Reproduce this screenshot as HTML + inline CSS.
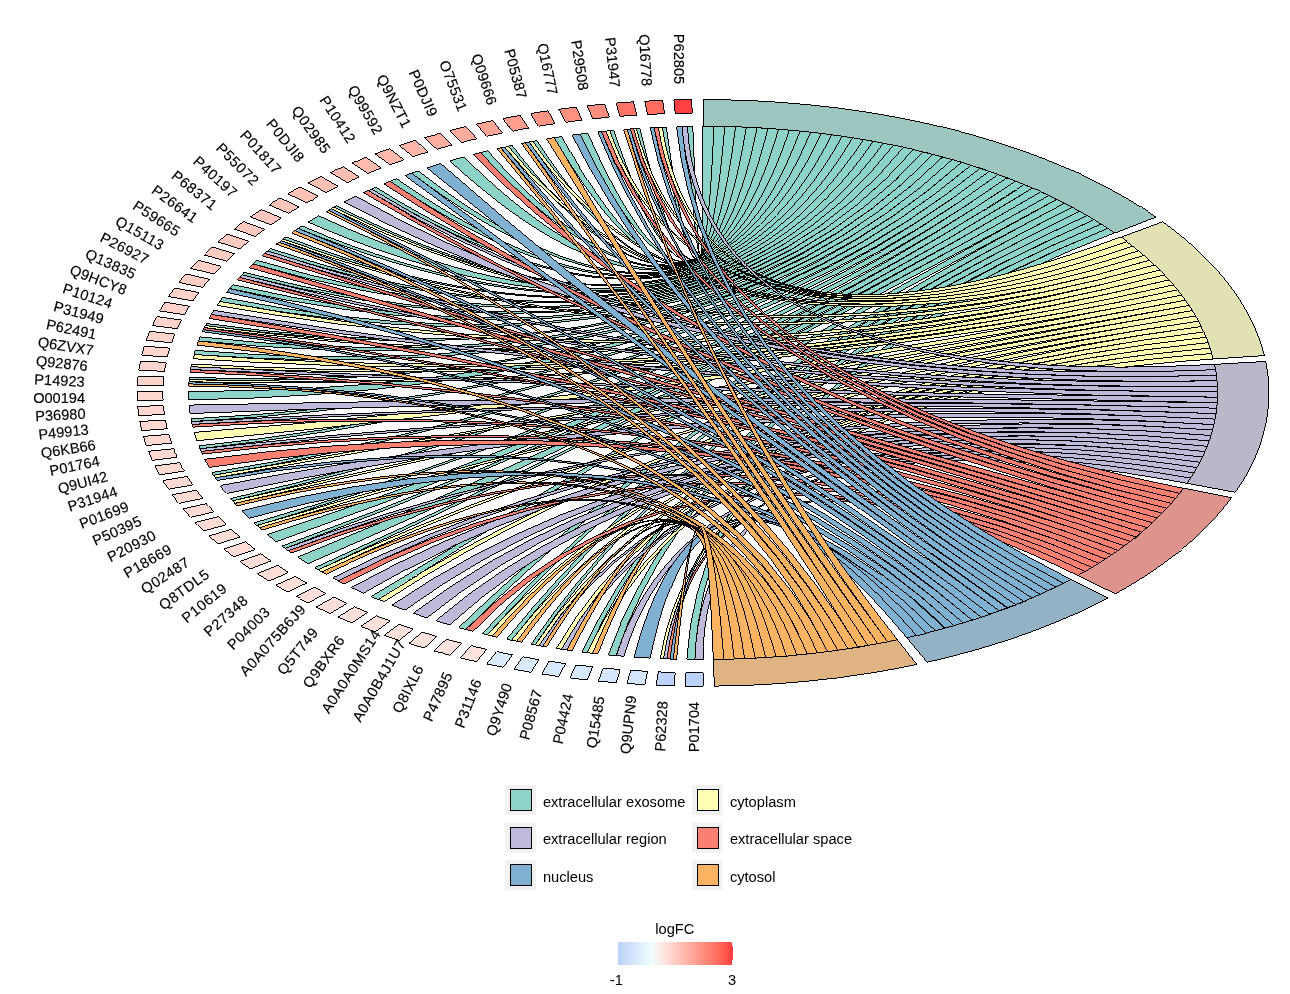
<!DOCTYPE html>
<html><head><meta charset="utf-8"><title>GOChord</title>
<style>html,body{margin:0;padding:0;background:#fff}svg{display:block}</style></head>
<body>
<svg width="1290" height="994" viewBox="0 0 1290 994">
<rect width="1290" height="994" fill="#fff"/>
<g shape-rendering="crispEdges">
<g stroke="#000" stroke-width="0.99">
<polygon fill="#9CC6BF" points="703.0,126.3 714.1,126.4 725.2,126.5 736.3,126.9 747.3,127.3 758.4,127.8 769.4,128.5 780.4,129.3 791.3,130.3 802.2,131.3 813.1,132.5 823.9,133.8 834.6,135.2 845.3,136.7 855.9,138.3 866.5,140.1 877.0,142.0 887.4,144.0 897.7,146.1 907.9,148.3 918.0,150.7 928.0,153.1 937.9,155.7 947.8,158.4 957.5,161.2 967.0,164.1 976.5,167.1 985.8,170.2 995.0,173.4 1004.1,176.7 1013.0,180.1 1021.8,183.6 1030.4,187.2 1038.9,190.9 1047.2,194.7 1055.4,198.6 1063.4,202.6 1071.2,206.7 1078.8,210.8 1086.3,215.1 1093.6,219.4 1100.8,223.8 1107.7,228.3 1114.5,232.8 1155.6,216.8 1148.2,211.8 1140.5,206.9 1132.7,202.0 1124.7,197.3 1116.4,192.6 1108.0,188.1 1099.4,183.6 1090.6,179.2 1081.6,174.9 1072.5,170.7 1063.1,166.7 1053.6,162.7 1044.0,158.8 1034.2,155.1 1024.2,151.4 1014.1,147.9 1003.8,144.5 993.4,141.2 982.9,138.0 972.2,134.9 961.4,132.0 950.5,129.2 939.5,126.5 928.4,123.9 917.1,121.4 905.8,119.1 894.4,116.9 882.8,114.8 871.2,112.9 859.5,111.1 847.8,109.4 836.0,107.8 824.1,106.4 812.1,105.1 800.1,104.0 788.1,103.0 776.0,102.1 763.9,101.3 751.8,100.7 739.6,100.3 727.4,99.9 715.2,99.7 703.1,99.6"/>
<polygon fill="#E1E1B3" points="1120.5,237.1 1126.7,241.6 1132.6,246.2 1138.4,250.8 1144.0,255.5 1149.3,260.3 1154.5,265.1 1159.5,270.0 1164.4,274.9 1169.0,279.9 1173.4,284.9 1177.6,289.9 1181.6,295.1 1185.4,300.2 1189.0,305.4 1192.4,310.6 1195.6,315.9 1198.5,321.2 1201.3,326.5 1203.8,331.9 1206.2,337.2 1208.3,342.6 1210.2,348.1 1211.9,353.5 1213.3,359.0 1264.3,355.6 1262.7,349.6 1260.9,343.6 1258.8,337.6 1256.5,331.7 1253.9,325.8 1251.1,319.9 1248.1,314.0 1244.8,308.2 1241.3,302.4 1237.6,296.6 1233.6,290.9 1229.5,285.3 1225.0,279.6 1220.4,274.1 1215.6,268.6 1210.5,263.1 1205.2,257.7 1199.7,252.3 1194.0,247.0 1188.1,241.8 1181.9,236.6 1175.6,231.5 1169.0,226.5 1162.3,221.5"/>
<polygon fill="#BAB7CA" points="1214.5,364.3 1215.5,369.5 1216.3,374.7 1216.9,380.0 1217.3,385.2 1217.5,390.5 1217.5,395.7 1217.3,401.0 1216.9,406.3 1216.2,411.5 1215.4,416.7 1214.4,422.0 1213.2,427.2 1211.8,432.4 1210.2,437.6 1208.4,442.8 1206.4,447.9 1204.2,453.0 1201.9,458.1 1199.3,463.2 1196.5,468.3 1193.5,473.3 1190.4,478.3 1187.0,483.3 1235.4,492.3 1239.1,486.8 1242.6,481.3 1245.9,475.8 1248.9,470.3 1251.7,464.7 1254.4,459.1 1256.8,453.4 1259.0,447.7 1260.9,442.0 1262.7,436.3 1264.2,430.6 1265.6,424.9 1266.7,419.1 1267.6,413.4 1268.2,407.6 1268.7,401.8 1268.9,396.0 1268.9,390.3 1268.7,384.5 1268.3,378.7 1267.6,372.9 1266.8,367.2 1265.7,361.4"/>
<polygon fill="#DE948C" points="1183.5,488.3 1179.8,493.1 1175.9,497.9 1171.9,502.6 1167.7,507.3 1163.3,512.0 1158.8,516.6 1154.1,521.2 1149.2,525.7 1144.1,530.1 1138.9,534.6 1133.5,538.9 1127.9,543.2 1122.2,547.5 1116.3,551.7 1110.3,555.8 1104.1,559.9 1097.7,563.9 1091.3,567.8 1084.6,571.7 1077.8,575.5 1115.3,593.8 1122.8,589.6 1130.1,585.3 1137.2,581.0 1144.2,576.6 1151.0,572.1 1157.6,567.6 1164.1,562.9 1170.4,558.3 1176.5,553.5 1182.4,548.7 1188.2,543.9 1193.8,539.0 1199.2,534.0 1204.4,529.0 1209.4,523.9 1214.2,518.8 1218.8,513.6 1223.2,508.4 1227.5,503.1 1231.5,497.8"/>
<polygon fill="#94B2C6" points="1070.7,579.4 1063.6,583.0 1056.4,586.6 1049.1,590.2 1041.6,593.6 1034.1,597.0 1026.3,600.3 1018.5,603.5 1010.5,606.6 1002.5,609.7 994.3,612.7 986.0,615.6 977.6,618.4 969.1,621.1 960.4,623.7 951.7,626.3 942.9,628.7 934.0,631.1 925.1,633.4 916.0,635.6 906.8,637.7 927.2,662.2 937.3,659.9 947.3,657.4 957.1,654.9 966.9,652.3 976.6,649.6 986.2,646.8 995.7,643.9 1005.0,640.9 1014.3,637.8 1023.4,634.6 1032.4,631.4 1041.3,628.0 1050.0,624.6 1058.7,621.0 1067.2,617.4 1075.5,613.7 1083.7,609.9 1091.8,606.0 1099.7,602.1 1107.5,598.0"/>
<polygon fill="#DFB482" points="897.4,639.8 888.1,641.7 878.8,643.5 869.4,645.2 860.0,646.8 850.5,648.3 840.9,649.7 831.3,651.1 821.7,652.3 812.0,653.5 802.2,654.5 792.4,655.4 782.6,656.3 772.8,657.0 762.9,657.7 753.0,658.2 743.1,658.7 733.2,659.0 723.3,659.3 713.3,659.4 714.4,686.1 725.3,685.9 736.2,685.7 747.1,685.3 758.0,684.8 768.9,684.2 779.8,683.5 790.6,682.6 801.4,681.7 812.1,680.7 822.9,679.5 833.5,678.3 844.1,676.9 854.7,675.4 865.2,673.9 875.7,672.2 886.1,670.4 896.4,668.5 906.6,666.5 916.8,664.4"/>
</g>
<g font-family="Liberation Sans, Arial, sans-serif" font-size="14.6" fill="#000" stroke="#000" stroke-width="0.15" text-anchor="middle">
<text transform="translate(680.1 59.9) rotate(-270.0)" x="-0.9" y="6.5" letter-spacing="0.00">P62805</text>
<text transform="translate(647.0 60.9) rotate(-273.0)" x="-0.9" y="6.5" letter-spacing="0.01">Q16778</text>
<text transform="translate(614.1 62.9) rotate(-276.0)" x="-0.8" y="6.5" letter-spacing="0.02">P31947</text>
<text transform="translate(581.4 65.7) rotate(-279.0)" x="-0.7" y="6.5" letter-spacing="0.05">P29508</text>
<text transform="translate(549.1 69.3) rotate(-282.0)" x="-0.6" y="6.5" letter-spacing="0.09">Q16777</text>
<text transform="translate(517.2 73.9) rotate(-285.0)" x="-0.5" y="6.5" letter-spacing="0.14">P05387</text>
<text transform="translate(485.7 79.3) rotate(-288.0)" x="-0.3" y="6.5" letter-spacing="0.19">Q09666</text>
<text transform="translate(454.8 85.5) rotate(-291.0)" x="-0.1" y="6.5" letter-spacing="0.25">O75531</text>
<text transform="translate(424.6 92.5) rotate(-294.0)" x="0.1" y="6.5" letter-spacing="0.30">P0DJI9</text>
<text transform="translate(395.2 100.3) rotate(-297.0)" x="0.3" y="6.5" letter-spacing="0.36">Q9NZT1</text>
<text transform="translate(366.5 108.9) rotate(-300.0)" x="0.4" y="6.5" letter-spacing="0.41">Q99592</text>
<text transform="translate(338.7 118.3) rotate(-303.0)" x="0.6" y="6.5" letter-spacing="0.46">P10412</text>
<text transform="translate(312.0 128.4) rotate(-306.0)" x="0.7" y="6.5" letter-spacing="0.50">Q02985</text>
<text transform="translate(286.2 139.2) rotate(-309.0)" x="0.8" y="6.5" letter-spacing="0.53">P0DJI8</text>
<text transform="translate(261.5 150.6) rotate(-312.0)" x="0.8" y="6.5" letter-spacing="0.54">P01817</text>
<text transform="translate(238.1 162.7) rotate(-315.0)" x="0.9" y="6.5" letter-spacing="0.55">P55072</text>
<text transform="translate(215.8 175.4) rotate(-318.0)" x="0.8" y="6.5" letter-spacing="0.54">P40197</text>
<text transform="translate(194.8 188.7) rotate(-321.0)" x="0.8" y="6.5" letter-spacing="0.53">P68371</text>
<text transform="translate(175.2 202.5) rotate(-324.0)" x="0.7" y="6.5" letter-spacing="0.50">P26641</text>
<text transform="translate(157.0 216.9) rotate(-327.0)" x="0.6" y="6.5" letter-spacing="0.46">P59665</text>
<text transform="translate(140.3 231.7) rotate(-330.0)" x="0.4" y="6.5" letter-spacing="0.41">Q15113</text>
<text transform="translate(125.0 246.9) rotate(-333.0)" x="0.3" y="6.5" letter-spacing="0.36">P26927</text>
<text transform="translate(111.3 262.5) rotate(-336.0)" x="0.1" y="6.5" letter-spacing="0.30">Q13835</text>
<text transform="translate(99.1 278.5) rotate(-339.0)" x="-0.1" y="6.5" letter-spacing="0.25">Q9HCY8</text>
<text transform="translate(88.5 294.7) rotate(-342.0)" x="-0.3" y="6.5" letter-spacing="0.19">P10124</text>
<text transform="translate(79.6 311.3) rotate(-345.0)" x="-0.5" y="6.5" letter-spacing="0.14">P31949</text>
<text transform="translate(72.3 328.0) rotate(-348.0)" x="-0.6" y="6.5" letter-spacing="0.09">P62491</text>
<text transform="translate(66.7 344.9) rotate(-351.0)" x="-0.7" y="6.5" letter-spacing="0.05">Q6ZVX7</text>
<text transform="translate(62.8 362.0) rotate(-354.0)" x="-0.8" y="6.5" letter-spacing="0.02">Q92876</text>
<text transform="translate(60.5 379.1) rotate(-357.0)" x="-0.9" y="6.5" letter-spacing="0.01">P14923</text>
<text transform="translate(60.0 396.2) rotate(-360.0)" x="-0.9" y="6.5" letter-spacing="0.00">O00194</text>
<text transform="translate(61.2 413.4) rotate(-3.0)" x="-0.9" y="6.5" letter-spacing="0.01">P36980</text>
<text transform="translate(64.1 430.5) rotate(-6.0)" x="-0.8" y="6.5" letter-spacing="0.02">P49913</text>
<text transform="translate(68.7 447.5) rotate(-9.0)" x="-0.7" y="6.5" letter-spacing="0.05">Q6KB66</text>
<text transform="translate(74.9 464.3) rotate(-12.0)" x="-0.6" y="6.5" letter-spacing="0.09">P01764</text>
<text transform="translate(82.9 481.0) rotate(-15.0)" x="-0.5" y="6.5" letter-spacing="0.14">Q9UI42</text>
<text transform="translate(92.4 497.4) rotate(-18.0)" x="-0.3" y="6.5" letter-spacing="0.19">P31944</text>
<text transform="translate(103.6 513.6) rotate(-21.0)" x="-0.1" y="6.5" letter-spacing="0.25">P01699</text>
<text transform="translate(116.4 529.4) rotate(-24.0)" x="0.1" y="6.5" letter-spacing="0.30">P50395</text>
<text transform="translate(130.7 544.9) rotate(-27.0)" x="0.3" y="6.5" letter-spacing="0.36">P20930</text>
<text transform="translate(146.6 559.9) rotate(-30.0)" x="0.4" y="6.5" letter-spacing="0.41">P18669</text>
<text transform="translate(163.9 574.6) rotate(-33.0)" x="0.6" y="6.5" letter-spacing="0.46">Q02487</text>
<text transform="translate(182.7 588.7) rotate(-36.0)" x="0.7" y="6.5" letter-spacing="0.50">Q8TDL5</text>
<text transform="translate(202.8 602.3) rotate(-39.0)" x="0.8" y="6.5" letter-spacing="0.53">P10619</text>
<text transform="translate(224.3 615.4) rotate(-42.0)" x="0.8" y="6.5" letter-spacing="0.54">P27348</text>
<text transform="translate(247.0 627.9) rotate(-45.0)" x="0.9" y="6.5" letter-spacing="0.55">P04003</text>
<text transform="translate(271.0 639.7) rotate(-48.0)" x="0.8" y="6.5" letter-spacing="0.54">A0A075B6J9</text>
<text transform="translate(296.1 650.9) rotate(-51.0)" x="0.8" y="6.5" letter-spacing="0.53">Q5T749</text>
<text transform="translate(322.2 661.4) rotate(-54.0)" x="0.7" y="6.5" letter-spacing="0.50">Q9BXR6</text>
<text transform="translate(349.4 671.2) rotate(-57.0)" x="0.6" y="6.5" letter-spacing="0.46">A0A0A0MS14</text>
<text transform="translate(377.5 680.3) rotate(-60.0)" x="0.4" y="6.5" letter-spacing="0.41">A0A0B4J1U7</text>
<text transform="translate(406.5 688.6) rotate(-63.0)" x="0.3" y="6.5" letter-spacing="0.36">Q8IXL6</text>
<text transform="translate(436.3 696.1) rotate(-66.0)" x="0.1" y="6.5" letter-spacing="0.30">P47895</text>
<text transform="translate(466.8 702.8) rotate(-69.0)" x="-0.1" y="6.5" letter-spacing="0.25">P31146</text>
<text transform="translate(497.9 708.7) rotate(-72.0)" x="-0.3" y="6.5" letter-spacing="0.19">Q9Y490</text>
<text transform="translate(529.5 713.8) rotate(-75.0)" x="-0.5" y="6.5" letter-spacing="0.14">P08567</text>
<text transform="translate(561.6 718.0) rotate(-78.0)" x="-0.6" y="6.5" letter-spacing="0.09">P04424</text>
<text transform="translate(594.1 721.3) rotate(-81.0)" x="-0.7" y="6.5" letter-spacing="0.05">Q15485</text>
<text transform="translate(626.9 723.8) rotate(-84.0)" x="-0.8" y="6.5" letter-spacing="0.02">Q9UPN9</text>
<text transform="translate(659.8 725.4) rotate(-87.0)" x="-0.9" y="6.5" letter-spacing="0.01">P62328</text>
<text transform="translate(692.9 726.1) rotate(-90.0)" x="-0.9" y="6.5" letter-spacing="0.00">P01704</text>
</g>
<g stroke="#000" stroke-width="0.99">
<g fill="#8DD3C7">
<path d="M703.0,126.3 Q703.0,392.9 692.8,126.4 L687.4,126.4 Q703.0,392.9 713.9,126.4 Z"/>
<path d="M713.9,126.4 Q703.0,392.9 666.3,127.0 L662.3,127.1 Q703.0,392.9 724.7,126.5 Z"/>
<path d="M724.7,126.5 Q703.0,392.9 639.9,128.3 L636.7,128.5 Q703.0,392.9 735.5,126.8 Z"/>
<path d="M735.5,126.8 Q703.0,392.9 613.7,130.3 L609.7,130.7 Q703.0,392.9 746.3,127.2 Z"/>
<path d="M746.3,127.2 Q703.0,392.9 587.8,133.1 L579.9,134.1 Q703.0,392.9 757.1,127.8 Z"/>
<path d="M757.1,127.8 Q703.0,392.9 562.1,136.5 L554.3,137.7 Q703.0,392.9 767.9,128.4 Z"/>
<path d="M767.9,128.4 Q703.0,392.9 536.8,140.6 L533.0,141.3 Q703.0,392.9 778.6,129.2 Z"/>
<path d="M778.6,129.2 Q703.0,392.9 512.0,145.4 L508.2,146.2 Q703.0,392.9 789.3,130.1 Z"/>
<path d="M789.3,130.1 Q703.0,392.9 487.7,150.8 L480.3,152.6 Q703.0,392.9 800.0,131.1 Z"/>
<path d="M800.0,131.1 Q703.0,392.9 463.9,156.9 L449.7,160.9 Q703.0,392.9 810.6,132.2 Z"/>
<path d="M810.6,132.2 Q703.0,392.9 418.3,170.9 L411.6,173.2 Q703.0,392.9 821.2,133.4 Z"/>
<path d="M821.2,133.4 Q703.0,392.9 396.6,178.7 L390.2,181.3 Q703.0,392.9 831.7,134.8 Z"/>
<path d="M831.7,134.8 Q703.0,392.9 375.8,187.2 L371.6,189.0 Q703.0,392.9 842.2,136.2 Z"/>
<path d="M842.2,136.2 Q703.0,392.9 336.7,205.7 L333.9,207.2 Q703.0,392.9 852.6,137.8 Z"/>
<path d="M852.6,137.8 Q703.0,392.9 318.6,215.8 L308.0,222.1 Q703.0,392.9 862.9,139.5 Z"/>
<path d="M862.9,139.5 Q703.0,392.9 301.5,226.2 L298.1,228.4 Q703.0,392.9 873.2,141.3 Z"/>
<path d="M873.2,141.3 Q703.0,392.9 285.5,237.2 L283.1,238.9 Q703.0,392.9 883.4,143.2 Z"/>
<path d="M883.4,143.2 Q703.0,392.9 270.6,248.5 L267.7,250.9 Q703.0,392.9 893.5,145.2 Z"/>
<path d="M893.5,145.2 Q703.0,392.9 256.8,260.3 L252.8,263.9 Q703.0,392.9 903.5,147.4 Z"/>
<path d="M903.5,147.4 Q703.0,392.9 244.2,272.3 L241.8,274.8 Q703.0,392.9 913.4,149.6 Z"/>
<path d="M913.4,149.6 Q703.0,392.9 232.8,284.7 L229.6,288.6 Q703.0,392.9 923.3,152.0 Z"/>
<path d="M923.3,152.0 Q703.0,392.9 222.7,297.4 L219.9,301.4 Q703.0,392.9 933.0,154.4 Z"/>
<path d="M933.0,154.4 Q703.0,392.9 206.3,323.5 L205.3,325.6 Q703.0,392.9 942.6,157.0 Z"/>
<path d="M942.6,157.0 Q703.0,392.9 200.1,336.9 L198.5,341.0 Q703.0,392.9 952.2,159.6 Z"/>
<path d="M952.2,159.6 Q703.0,392.9 195.2,350.4 L194.0,354.5 Q703.0,392.9 961.6,162.4 Z"/>
<path d="M961.6,162.4 Q703.0,392.9 189.4,377.6 L189.2,379.7 Q703.0,392.9 970.9,165.3 Z"/>
<path d="M970.9,165.3 Q703.0,392.9 188.6,391.4 L188.8,399.8 Q703.0,392.9 980.1,168.3 Z"/>
<path d="M980.1,168.3 Q703.0,392.9 191.0,418.8 L191.6,421.6 Q703.0,392.9 989.2,171.3 Z"/>
<path d="M989.2,171.3 Q703.0,392.9 198.9,445.9 L200.0,448.7 Q703.0,392.9 998.1,174.5 Z"/>
<path d="M998.1,174.5 Q703.0,392.9 212.1,472.5 L213.7,475.2 Q703.0,392.9 1006.9,177.8 Z"/>
<path d="M1006.9,177.8 Q703.0,392.9 230.5,498.3 L232.6,500.8 Q703.0,392.9 1015.6,181.1 Z"/>
<path d="M1015.6,181.1 Q703.0,392.9 253.9,522.9 L256.5,525.3 Q703.0,392.9 1024.1,184.6 Z"/>
<path d="M1024.1,184.6 Q703.0,392.9 267.4,534.7 L276.2,541.7 Q703.0,392.9 1032.5,188.2 Z"/>
<path d="M1032.5,188.2 Q703.0,392.9 282.1,546.1 L285.2,548.4 Q703.0,392.9 1040.8,191.8 Z"/>
<path d="M1040.8,191.8 Q703.0,392.9 297.8,557.1 L308.0,563.7 Q703.0,392.9 1048.9,195.5 Z"/>
<path d="M1048.9,195.5 Q703.0,392.9 314.7,567.7 L318.2,569.8 Q703.0,392.9 1056.8,199.3 Z"/>
<path d="M1056.8,199.3 Q703.0,392.9 371.2,596.6 L377.5,599.3 Q703.0,392.9 1064.6,203.2 Z"/>
<path d="M1064.6,203.2 Q703.0,392.9 458.7,627.5 L465.8,629.5 Q703.0,392.9 1072.2,207.2 Z"/>
<path d="M1072.2,207.2 Q703.0,392.9 482.3,633.7 L487.2,634.9 Q703.0,392.9 1079.7,211.3 Z"/>
<path d="M1079.7,211.3 Q703.0,392.9 506.5,639.3 L511.5,640.3 Q703.0,392.9 1087.0,215.5 Z"/>
<path d="M1087.0,215.5 Q703.0,392.9 531.2,644.2 L535.1,644.9 Q703.0,392.9 1094.1,219.7 Z"/>
<path d="M1094.1,219.7 Q703.0,392.9 582.0,652.0 L587.3,652.7 Q703.0,392.9 1101.1,224.0 Z"/>
<path d="M1101.1,224.0 Q703.0,392.9 607.9,654.9 L615.9,655.6 Q703.0,392.9 1107.9,228.4 Z"/>
<path d="M1107.9,228.4 Q703.0,392.9 686.8,659.4 L694.9,659.5 Q703.0,392.9 1114.5,232.8 Z"/>
</g>
<g fill="#FFFFB3">
<path d="M1120.5,237.1 Q703.0,392.9 662.3,127.1 L658.2,127.3 Q703.0,392.9 1126.7,241.6 Z"/>
<path d="M1126.7,241.6 Q703.0,392.9 636.7,128.5 L633.5,128.7 Q703.0,392.9 1132.6,246.2 Z"/>
<path d="M1132.6,246.2 Q703.0,392.9 609.7,130.7 L605.8,131.1 Q703.0,392.9 1138.4,250.8 Z"/>
<path d="M1138.4,250.8 Q703.0,392.9 533.0,141.3 L529.2,142.0 Q703.0,392.9 1144.0,255.5 Z"/>
<path d="M1144.0,255.5 Q703.0,392.9 508.2,146.2 L504.5,147.0 Q703.0,392.9 1149.3,260.3 Z"/>
<path d="M1149.3,260.3 Q703.0,392.9 333.9,207.2 L331.1,208.7 Q703.0,392.9 1154.5,265.1 Z"/>
<path d="M1154.5,265.1 Q703.0,392.9 283.1,238.9 L280.8,240.6 Q703.0,392.9 1159.5,270.0 Z"/>
<path d="M1159.5,270.0 Q703.0,392.9 219.9,301.4 L217.2,305.3 Q703.0,392.9 1164.4,274.9 Z"/>
<path d="M1164.4,274.9 Q703.0,392.9 205.3,325.6 L204.3,327.6 Q703.0,392.9 1169.0,279.9 Z"/>
<path d="M1169.0,279.9 Q703.0,392.9 194.0,354.5 L192.9,358.7 Q703.0,392.9 1173.4,284.9 Z"/>
<path d="M1173.4,284.9 Q703.0,392.9 191.6,364.0 L191.1,366.7 Q703.0,392.9 1177.6,289.9 Z"/>
<path d="M1177.6,289.9 Q703.0,392.9 189.2,379.7 L189.0,381.8 Q703.0,392.9 1181.6,295.1 Z"/>
<path d="M1181.6,295.1 Q703.0,392.9 194.3,432.4 L196.9,440.7 Q703.0,392.9 1185.4,300.2 Z"/>
<path d="M1185.4,300.2 Q703.0,392.9 213.7,475.2 L215.4,477.8 Q703.0,392.9 1189.0,305.4 Z"/>
<path d="M1189.0,305.4 Q703.0,392.9 232.6,500.8 L234.8,503.4 Q703.0,392.9 1192.4,310.6 Z"/>
<path d="M1192.4,310.6 Q703.0,392.9 256.5,525.3 L259.2,527.7 Q703.0,392.9 1195.6,315.9 Z"/>
<path d="M1195.6,315.9 Q703.0,392.9 318.2,569.8 L321.9,571.9 Q703.0,392.9 1198.5,321.2 Z"/>
<path d="M1198.5,321.2 Q703.0,392.9 377.5,599.3 L383.8,601.9 Q703.0,392.9 1201.3,326.5 Z"/>
<path d="M1201.3,326.5 Q703.0,392.9 487.2,634.9 L492.1,636.1 Q703.0,392.9 1203.8,331.9 Z"/>
<path d="M1203.8,331.9 Q703.0,392.9 511.5,640.3 L516.5,641.4 Q703.0,392.9 1206.2,337.2 Z"/>
<path d="M1206.2,337.2 Q703.0,392.9 535.1,644.9 L538.9,645.6 Q703.0,392.9 1208.3,342.6 Z"/>
<path d="M1208.3,342.6 Q703.0,392.9 556.4,648.4 L561.6,649.2 Q703.0,392.9 1210.2,348.1 Z"/>
<path d="M1210.2,348.1 Q703.0,392.9 587.3,652.7 L592.5,653.3 Q703.0,392.9 1211.9,353.5 Z"/>
<path d="M1211.9,353.5 Q703.0,392.9 660.4,658.6 L663.6,658.7 Q703.0,392.9 1213.3,359.0 Z"/>
</g>
<g fill="#BEBADA">
<path d="M1214.5,364.3 Q703.0,392.9 687.4,126.4 L682.0,126.5 Q703.0,392.9 1215.6,369.7 Z"/>
<path d="M1215.6,369.7 Q703.0,392.9 371.6,189.0 L367.5,190.8 Q703.0,392.9 1216.4,375.2 Z"/>
<path d="M1216.4,375.2 Q703.0,392.9 355.8,196.2 L344.0,202.0 Q703.0,392.9 1217.0,380.7 Z"/>
<path d="M1217.0,380.7 Q703.0,392.9 267.7,250.9 L264.8,253.3 Q703.0,392.9 1217.3,386.2 Z"/>
<path d="M1217.3,386.2 Q703.0,392.9 241.8,274.8 L239.4,277.4 Q703.0,392.9 1217.5,391.7 Z"/>
<path d="M1217.5,391.7 Q703.0,392.9 213.9,310.4 L211.4,314.4 Q703.0,392.9 1217.4,397.2 Z"/>
<path d="M1217.4,397.2 Q703.0,392.9 191.1,366.7 L190.6,369.5 Q703.0,392.9 1217.2,402.7 Z"/>
<path d="M1217.2,402.7 Q703.0,392.9 189.1,405.1 L190.1,413.5 Q703.0,392.9 1216.7,408.2 Z"/>
<path d="M1216.7,408.2 Q703.0,392.9 191.6,421.6 L192.2,424.4 Q703.0,392.9 1215.9,413.6 Z"/>
<path d="M1215.9,413.6 Q703.0,392.9 200.0,448.7 L201.1,451.4 Q703.0,392.9 1215.0,419.1 Z"/>
<path d="M1215.0,419.1 Q703.0,392.9 220.6,485.5 L226.5,493.3 Q703.0,392.9 1213.9,424.6 Z"/>
<path d="M1213.9,424.6 Q703.0,392.9 285.2,548.4 L288.4,550.7 Q703.0,392.9 1212.5,430.0 Z"/>
<path d="M1212.5,430.0 Q703.0,392.9 332.6,577.9 L338.2,580.9 Q703.0,392.9 1210.9,435.5 Z"/>
<path d="M1210.9,435.5 Q703.0,392.9 351.4,587.5 L363.4,593.2 Q703.0,392.9 1209.1,440.9 Z"/>
<path d="M1209.1,440.9 Q703.0,392.9 391.9,605.2 L405.0,610.2 Q703.0,392.9 1207.1,446.3 Z"/>
<path d="M1207.1,446.3 Q703.0,392.9 413.4,613.2 L426.9,617.9 Q703.0,392.9 1204.9,451.6 Z"/>
<path d="M1204.9,451.6 Q703.0,392.9 435.7,620.7 L449.7,624.9 Q703.0,392.9 1202.4,457.0 Z"/>
<path d="M1202.4,457.0 Q703.0,392.9 538.9,645.6 L542.7,646.2 Q703.0,392.9 1199.8,462.3 Z"/>
<path d="M1199.8,462.3 Q703.0,392.9 561.6,649.2 L566.8,650.0 Q703.0,392.9 1196.9,467.6 Z"/>
<path d="M1196.9,467.6 Q703.0,392.9 615.9,655.6 L623.9,656.3 Q703.0,392.9 1193.8,472.9 Z"/>
<path d="M1193.8,472.9 Q703.0,392.9 663.6,658.7 L666.9,658.8 Q703.0,392.9 1190.5,478.1 Z"/>
<path d="M1190.5,478.1 Q703.0,392.9 694.9,659.5 L703.0,659.5 Q703.0,392.9 1187.0,483.3 Z"/>
</g>
<g fill="#FB8072">
<path d="M1183.5,488.3 Q703.0,392.9 658.2,127.3 L654.2,127.5 Q703.0,392.9 1179.6,493.3 Z"/>
<path d="M1179.6,493.3 Q703.0,392.9 633.5,128.7 L630.3,129.0 Q703.0,392.9 1175.5,498.4 Z"/>
<path d="M1175.5,498.4 Q703.0,392.9 605.8,131.1 L601.8,131.5 Q703.0,392.9 1171.3,503.4 Z"/>
<path d="M1171.3,503.4 Q703.0,392.9 480.3,152.6 L473.0,154.4 Q703.0,392.9 1166.8,508.3 Z"/>
<path d="M1166.8,508.3 Q703.0,392.9 390.2,181.3 L383.8,183.9 Q703.0,392.9 1162.2,513.2 Z"/>
<path d="M1162.2,513.2 Q703.0,392.9 367.5,190.8 L363.4,192.6 Q703.0,392.9 1157.3,518.0 Z"/>
<path d="M1157.3,518.0 Q703.0,392.9 264.8,253.3 L262.0,255.7 Q703.0,392.9 1152.3,522.8 Z"/>
<path d="M1152.3,522.8 Q703.0,392.9 252.8,263.9 L249.0,267.6 Q703.0,392.9 1147.0,527.6 Z"/>
<path d="M1147.0,527.6 Q703.0,392.9 239.4,277.4 L237.1,279.9 Q703.0,392.9 1141.6,532.2 Z"/>
<path d="M1141.6,532.2 Q703.0,392.9 211.4,314.4 L209.1,318.4 Q703.0,392.9 1136.0,536.9 Z"/>
<path d="M1136.0,536.9 Q703.0,392.9 204.3,327.6 L203.3,329.6 Q703.0,392.9 1130.3,541.4 Z"/>
<path d="M1130.3,541.4 Q703.0,392.9 190.6,369.5 L190.1,372.3 Q703.0,392.9 1124.3,545.9 Z"/>
<path d="M1124.3,545.9 Q703.0,392.9 192.2,424.4 L192.9,427.1 Q703.0,392.9 1118.2,550.4 Z"/>
<path d="M1118.2,550.4 Q703.0,392.9 201.1,451.4 L202.4,454.1 Q703.0,392.9 1111.9,554.7 Z"/>
<path d="M1111.9,554.7 Q703.0,392.9 204.8,459.3 L209.1,467.4 Q703.0,392.9 1105.4,559.0 Z"/>
<path d="M1105.4,559.0 Q703.0,392.9 288.4,550.7 L291.6,552.9 Q703.0,392.9 1098.8,563.3 Z"/>
<path d="M1098.8,563.3 Q703.0,392.9 338.2,580.9 L344.0,583.8 Q703.0,392.9 1091.9,567.4 Z"/>
<path d="M1091.9,567.4 Q703.0,392.9 465.8,629.5 L473.0,631.4 Q703.0,392.9 1085.0,571.5 Z"/>
<path d="M1085.0,571.5 Q703.0,392.9 666.9,658.8 L670.1,659.0 Q703.0,392.9 1077.8,575.5 Z"/>
</g>
<g fill="#80B1D3">
<path d="M1070.7,579.4 Q703.0,392.9 682.0,126.5 L676.6,126.7 Q703.0,392.9 1063.3,583.2 Z"/>
<path d="M1063.3,583.2 Q703.0,392.9 654.2,127.5 L650.2,127.7 Q703.0,392.9 1055.7,587.0 Z"/>
<path d="M1055.7,587.0 Q703.0,392.9 630.3,129.0 L627.1,129.2 Q703.0,392.9 1047.9,590.7 Z"/>
<path d="M1047.9,590.7 Q703.0,392.9 601.8,131.5 L597.8,131.9 Q703.0,392.9 1040.1,594.3 Z"/>
<path d="M1040.1,594.3 Q703.0,392.9 579.9,134.1 L572.0,135.1 Q703.0,392.9 1032.0,597.9 Z"/>
<path d="M1032.0,597.9 Q703.0,392.9 529.2,142.0 L525.4,142.7 Q703.0,392.9 1023.9,601.3 Z"/>
<path d="M1023.9,601.3 Q703.0,392.9 504.5,147.0 L500.8,147.8 Q703.0,392.9 1015.6,604.7 Z"/>
<path d="M1015.6,604.7 Q703.0,392.9 440.8,163.6 L426.9,167.9 Q703.0,392.9 1007.1,607.9 Z"/>
<path d="M1007.1,607.9 Q703.0,392.9 411.6,173.2 L405.0,175.6 Q703.0,392.9 998.6,611.1 Z"/>
<path d="M998.6,611.1 Q703.0,392.9 331.1,208.7 L328.3,210.3 Q703.0,392.9 989.9,614.2 Z"/>
<path d="M989.9,614.2 Q703.0,392.9 298.1,228.4 L294.8,230.7 Q703.0,392.9 981.1,617.2 Z"/>
<path d="M981.1,617.2 Q703.0,392.9 280.8,240.6 L278.5,242.3 Q703.0,392.9 972.2,620.1 Z"/>
<path d="M972.2,620.1 Q703.0,392.9 229.6,288.6 L226.5,292.5 Q703.0,392.9 963.2,622.9 Z"/>
<path d="M963.2,622.9 Q703.0,392.9 203.3,329.6 L202.4,331.7 Q703.0,392.9 954.0,625.6 Z"/>
<path d="M954.0,625.6 Q703.0,392.9 189.0,381.8 L188.9,383.9 Q703.0,392.9 944.8,628.2 Z"/>
<path d="M944.8,628.2 Q703.0,392.9 215.4,477.8 L217.2,480.5 Q703.0,392.9 935.4,630.7 Z"/>
<path d="M935.4,630.7 Q703.0,392.9 241.6,510.7 L249.0,518.2 Q703.0,392.9 926.0,633.2 Z"/>
<path d="M926.0,633.2 Q703.0,392.9 634.1,657.1 L650.2,658.1 Q703.0,392.9 916.5,635.5 Z"/>
<path d="M916.5,635.5 Q703.0,392.9 670.1,659.0 L673.3,659.1 Q703.0,392.9 906.8,637.7 Z"/>
</g>
<g fill="#FDB462">
<path d="M897.4,639.8 Q703.0,392.9 627.1,129.2 L623.9,129.5 Q703.0,392.9 887.6,641.8 Z"/>
<path d="M887.6,641.8 Q703.0,392.9 554.3,137.7 L546.6,138.9 Q703.0,392.9 877.8,643.7 Z"/>
<path d="M877.8,643.7 Q703.0,392.9 525.4,142.7 L521.6,143.4 Q703.0,392.9 867.9,645.4 Z"/>
<path d="M867.9,645.4 Q703.0,392.9 500.8,147.8 L497.0,148.6 Q703.0,392.9 857.9,647.1 Z"/>
<path d="M857.9,647.1 Q703.0,392.9 328.3,210.3 L325.5,211.8 Q703.0,392.9 847.8,648.7 Z"/>
<path d="M847.8,648.7 Q703.0,392.9 294.8,230.7 L291.6,232.9 Q703.0,392.9 837.7,650.2 Z"/>
<path d="M837.7,650.2 Q703.0,392.9 278.5,242.3 L276.2,244.1 Q703.0,392.9 827.6,651.6 Z"/>
<path d="M827.6,651.6 Q703.0,392.9 198.5,341.0 L196.9,345.1 Q703.0,392.9 817.4,652.8 Z"/>
<path d="M817.4,652.8 Q703.0,392.9 188.9,383.9 L188.8,386.0 Q703.0,392.9 807.1,654.0 Z"/>
<path d="M807.1,654.0 Q703.0,392.9 234.8,503.4 L237.1,505.9 Q703.0,392.9 796.8,655.0 Z"/>
<path d="M796.8,655.0 Q703.0,392.9 259.2,527.7 L262.0,530.1 Q703.0,392.9 786.5,656.0 Z"/>
<path d="M786.5,656.0 Q703.0,392.9 321.9,571.9 L325.5,574.0 Q703.0,392.9 776.1,656.8 Z"/>
<path d="M776.1,656.8 Q703.0,392.9 492.1,636.1 L497.0,637.2 Q703.0,392.9 765.7,657.5 Z"/>
<path d="M765.7,657.5 Q703.0,392.9 516.5,641.4 L521.6,642.4 Q703.0,392.9 755.2,658.1 Z"/>
<path d="M755.2,658.1 Q703.0,392.9 542.7,646.2 L546.6,646.9 Q703.0,392.9 744.8,658.6 Z"/>
<path d="M744.8,658.6 Q703.0,392.9 566.8,650.0 L572.0,650.7 Q703.0,392.9 734.3,659.0 Z"/>
<path d="M734.3,659.0 Q703.0,392.9 592.5,653.3 L597.8,653.9 Q703.0,392.9 723.8,659.3 Z"/>
<path d="M723.8,659.3 Q703.0,392.9 673.3,659.1 L676.6,659.1 Q703.0,392.9 713.3,659.4 Z"/>
</g>
</g>
<g stroke="#000" stroke-width="0.99">
<polygon fill="#FF4040" points="692.2,113.0 686.6,113.1 680.9,113.2 675.2,113.3 673.9,100.0 679.9,99.9 685.8,99.8 691.7,99.7"/>
<polygon fill="#FF6D60" points="664.5,113.7 658.8,113.9 653.2,114.2 647.5,114.5 644.9,101.2 650.8,100.9 656.7,100.6 662.6,100.4"/>
<polygon fill="#FF7466" points="636.8,115.1 631.1,115.5 625.5,115.9 619.9,116.3 616.0,103.1 621.8,102.7 627.7,102.2 633.6,101.9"/>
<polygon fill="#FF8E7F" points="609.3,117.2 603.7,117.7 598.1,118.3 592.6,118.9 587.3,105.8 593.1,105.2 599.0,104.6 604.8,104.1"/>
<polygon fill="#FF9182" points="582.0,120.1 576.5,120.8 571.0,121.5 565.5,122.2 558.9,109.3 564.7,108.5 570.5,107.8 576.2,107.1"/>
<polygon fill="#FF9485" points="555.1,123.7 549.6,124.5 544.2,125.3 538.8,126.2 531.0,113.5 536.6,112.6 542.3,111.7 548.0,110.9"/>
<polygon fill="#FF9D8E" points="528.5,128.0 523.2,128.9 517.8,129.9 512.5,131.0 503.4,118.5 509.0,117.4 514.6,116.4 520.2,115.4"/>
<polygon fill="#FFA698" points="502.4,133.0 497.2,134.1 491.9,135.2 486.7,136.4 476.4,124.2 481.9,123.0 487.4,121.8 492.9,120.6"/>
<polygon fill="#FFAC9E" points="476.9,138.7 471.7,139.9 466.6,141.2 461.5,142.5 450.0,130.6 455.4,129.2 460.7,127.9 466.1,126.6"/>
<polygon fill="#FFAFA1" points="451.9,145.1 446.9,146.4 441.9,147.8 437.0,149.3 424.3,137.7 429.5,136.2 434.7,134.7 440.0,133.3"/>
<polygon fill="#FFB5A8" points="427.6,152.1 422.8,153.6 417.9,155.1 413.1,156.7 399.3,145.5 404.4,143.8 409.4,142.2 414.5,140.6"/>
<polygon fill="#FFB8AB" points="404.1,159.8 399.4,161.4 394.7,163.1 390.1,164.7 375.2,153.9 380.0,152.1 384.9,150.4 389.8,148.7"/>
<polygon fill="#FFBBAE" points="381.3,168.0 376.8,169.8 372.3,171.6 367.8,173.4 351.9,162.9 356.5,161.1 361.2,159.2 366.0,157.3"/>
<polygon fill="#FFBEB2" points="359.4,176.9 355.1,178.8 350.7,180.7 346.5,182.6 329.5,172.6 334.0,170.6 338.5,168.6 343.0,166.6"/>
<polygon fill="#FFC0B5" points="338.4,186.4 334.2,188.4 330.1,190.4 326.0,192.4 308.1,182.9 312.4,180.7 316.7,178.6 321.0,176.5"/>
<polygon fill="#FFC3B8" points="318.4,196.4 314.4,198.5 310.5,200.6 306.6,202.8 287.7,193.7 291.8,191.4 295.9,189.2 300.1,187.0"/>
<polygon fill="#FFC5BA" points="299.4,206.9 295.6,209.1 291.9,211.3 288.3,213.6 268.5,205.0 272.3,202.7 276.2,200.4 280.1,198.0"/>
<polygon fill="#FFC7BD" points="281.4,217.9 277.9,220.2 274.4,222.5 271.0,224.9 250.4,216.9 254.0,214.4 257.7,212.0 261.3,209.6"/>
<polygon fill="#FFC9BF" points="264.6,229.4 261.3,231.8 258.1,234.2 254.9,236.6 233.5,229.2 236.9,226.6 240.3,224.1 243.7,221.6"/>
<polygon fill="#FFCBC1" points="248.9,241.3 245.9,243.8 242.9,246.3 240.0,248.8 217.9,241.9 221.0,239.3 224.1,236.7 227.3,234.1"/>
<polygon fill="#FFCCC2" points="234.5,253.6 231.7,256.2 228.9,258.8 226.3,261.3 203.5,255.1 206.4,252.4 209.2,249.7 212.2,247.0"/>
<polygon fill="#FFCEC4" points="221.3,266.3 218.7,268.9 216.2,271.6 213.8,274.2 190.5,268.6 193.1,265.8 195.7,263.0 198.3,260.3"/>
<polygon fill="#FFCFC5" points="209.3,279.3 207.1,282.0 204.8,284.7 202.7,287.4 178.8,282.4 181.1,279.6 183.4,276.7 185.8,273.9"/>
<polygon fill="#FFD1C7" points="198.7,292.6 196.7,295.4 194.8,298.2 192.9,300.9 168.6,296.6 170.5,293.6 172.6,290.8 174.7,287.9"/>
<polygon fill="#FFD2C9" points="189.4,306.2 187.7,309.0 186.0,311.8 184.4,314.7 159.7,310.9 161.4,308.0 163.1,305.0 165.0,302.1"/>
<polygon fill="#FFD3CA" points="181.5,320.1 180.0,322.9 178.7,325.7 177.3,328.6 152.3,325.5 153.7,322.5 155.1,319.6 156.7,316.6"/>
<polygon fill="#FFD4CB" points="174.9,334.1 173.8,336.9 172.7,339.8 171.6,342.7 146.3,340.3 147.4,337.3 148.6,334.3 149.8,331.3"/>
<polygon fill="#FFD5CC" points="169.8,348.2 168.9,351.1 168.1,354.0 167.3,357.0 141.8,355.2 142.6,352.2 143.5,349.1 144.4,346.1"/>
<polygon fill="#FFD6CD" points="166.1,362.5 165.5,365.4 165.0,368.4 164.5,371.3 138.8,370.3 139.3,367.2 139.9,364.1 140.5,361.1"/>
<polygon fill="#FFD6CE" points="163.8,376.9 163.5,379.8 163.2,382.8 163.1,385.7 137.3,385.3 137.5,382.3 137.8,379.2 138.1,376.1"/>
<polygon fill="#FFD7CF" points="162.9,391.3 162.9,394.2 162.9,397.2 163.1,400.1 137.3,400.5 137.2,397.4 137.2,394.3 137.2,391.2"/>
<polygon fill="#FFD7CF" points="163.4,405.7 163.7,408.6 164.1,411.6 164.5,414.5 138.8,415.5 138.4,412.5 138.1,409.4 137.7,406.3"/>
<polygon fill="#FFD8D0" points="165.4,420.1 166.0,423.0 166.6,425.9 167.3,428.8 141.8,430.6 141.1,427.5 140.4,424.4 139.8,421.4"/>
<polygon fill="#FFD9D1" points="168.8,434.4 169.7,437.3 170.6,440.2 171.6,443.1 146.3,445.5 145.3,442.4 144.3,439.4 143.4,436.4"/>
<polygon fill="#FFD9D1" points="173.7,448.6 174.8,451.5 176.0,454.3 177.3,457.2 152.3,460.3 151.0,457.3 149.7,454.2 148.5,451.2"/>
<polygon fill="#FFDAD2" points="179.9,462.6 181.3,465.5 182.8,468.3 184.4,471.1 159.7,474.9 158.1,471.9 156.5,468.9 155.0,466.0"/>
<polygon fill="#FFDAD3" points="187.5,476.5 189.2,479.3 191.0,482.1 192.9,484.9 168.6,489.2 166.6,486.3 164.8,483.4 163.0,480.5"/>
<polygon fill="#FEDBD3" points="196.5,490.1 198.5,492.9 200.6,495.6 202.7,498.4 178.8,503.4 176.6,500.5 174.5,497.7 172.4,494.8"/>
<polygon fill="#FEDBD4" points="206.8,503.5 209.1,506.2 211.4,508.9 213.8,511.6 190.5,517.2 188.0,514.4 185.6,511.6 183.2,508.8"/>
<polygon fill="#FEDCD5" points="218.5,516.6 221.0,519.2 223.6,521.9 226.3,524.5 203.5,530.7 200.8,528.0 198.1,525.3 195.4,522.5"/>
<polygon fill="#FEDDD5" points="231.4,529.4 234.2,531.9 237.1,534.5 240.0,537.0 217.9,543.9 214.9,541.2 211.9,538.6 209.0,535.9"/>
<polygon fill="#FEDDD6" points="245.6,541.8 248.6,544.3 251.7,546.7 254.9,549.2 233.5,556.6 230.2,554.0 227.0,551.5 223.8,548.9"/>
<polygon fill="#FEDED7" points="261.0,553.8 264.3,556.2 267.6,558.6 271.0,560.9 250.4,568.9 246.9,566.4 243.4,564.0 240.0,561.4"/>
<polygon fill="#FDDED7" points="277.6,565.4 281.1,567.7 284.7,570.0 288.3,572.2 268.5,580.8 264.7,578.4 261.0,576.0 257.3,573.6"/>
<polygon fill="#FDDFD8" points="295.3,576.5 299.0,578.7 302.8,580.9 306.6,583.0 287.7,592.1 283.7,589.8 279.8,587.5 275.8,585.2"/>
<polygon fill="#FDDFD9" points="314.0,587.1 318.0,589.2 322.0,591.3 326.0,593.4 308.1,602.9 303.9,600.8 299.7,598.6 295.5,596.4"/>
<polygon fill="#FDDFD9" points="333.9,597.2 338.0,599.2 342.2,601.2 346.5,603.2 329.5,613.2 325.0,611.1 320.6,609.1 316.3,607.0"/>
<polygon fill="#FDE0D9" points="354.6,606.8 359.0,608.7 363.4,610.6 367.8,612.4 351.9,622.9 347.2,620.9 342.6,619.0 338.0,617.0"/>
<polygon fill="#FDE0DA" points="376.4,615.8 380.9,617.6 385.5,619.3 390.1,621.1 375.2,631.9 370.3,630.1 365.5,628.3 360.8,626.4"/>
<polygon fill="#FDE1DB" points="398.9,624.2 403.6,625.9 408.4,627.5 413.1,629.1 399.3,640.3 394.3,638.7 389.4,637.0 384.4,635.3"/>
<polygon fill="#FCE2DB" points="422.3,632.1 427.2,633.6 432.1,635.1 437.0,636.5 424.3,648.1 419.2,646.6 414.0,645.0 408.9,643.4"/>
<polygon fill="#FCE2DC" points="446.4,639.2 451.4,640.6 456.5,642.0 461.5,643.3 450.0,655.2 444.7,653.8 439.5,652.4 434.2,651.0"/>
<polygon fill="#FCE3DD" points="471.3,645.7 476.4,647.0 481.6,648.2 486.7,649.4 476.4,661.6 471.0,660.4 465.6,659.1 460.2,657.8"/>
<polygon fill="#D9EBFC" points="496.7,651.6 501.9,652.7 507.2,653.8 512.5,654.8 503.4,667.3 497.9,666.2 492.4,665.1 486.9,663.9"/>
<polygon fill="#D8EAFC" points="522.6,656.8 528.0,657.7 533.4,658.7 538.8,659.6 531.0,672.3 525.3,671.3 519.7,670.3 514.1,669.3"/>
<polygon fill="#D7E9FC" points="549.1,661.2 554.5,662.0 560.0,662.8 565.5,663.6 558.9,676.5 553.2,675.7 547.5,674.9 541.8,674.0"/>
<polygon fill="#D6E8FC" points="576.0,665.0 581.5,665.6 587.0,666.3 592.6,666.9 587.3,680.0 581.5,679.3 575.7,678.6 569.9,677.9"/>
<polygon fill="#D5E7FC" points="603.2,668.0 608.7,668.5 614.3,669.0 619.9,669.5 616.0,682.7 610.1,682.2 604.2,681.7 598.4,681.1"/>
<polygon fill="#D4E6FB" points="630.6,670.3 636.2,670.7 641.9,671.0 647.5,671.3 644.9,684.6 639.0,684.3 633.1,683.9 627.2,683.5"/>
<polygon fill="#BED3F9" points="658.3,671.9 663.9,672.1 669.6,672.3 675.2,672.5 673.9,685.8 668.0,685.6 662.1,685.4 656.1,685.2"/>
<polygon fill="#BBD1F8" points="686.0,672.7 691.7,672.8 697.4,672.8 703.0,672.8 703.0,686.2 697.1,686.1 691.2,686.1 685.2,686.0"/>
</g>
</g>
<g font-family="Liberation Sans, Arial, sans-serif" font-size="14.67" fill="#000">
<rect x="505.0" y="785.0" width="31.0" height="30" fill="#F2F2F2"/>
<rect x="510.5" y="789.5" width="21" height="21" fill="#8DD3C7" stroke="#000" stroke-width="1" shape-rendering="crispEdges"/>
<text x="542.9" y="806.7">extracellular exosome</text>
<rect x="692.0" y="785.0" width="30.6" height="30" fill="#F2F2F2"/>
<rect x="697.5" y="789.5" width="21" height="21" fill="#FFFFB3" stroke="#000" stroke-width="1" shape-rendering="crispEdges"/>
<text x="729.9" y="806.7">cytoplasm</text>
<rect x="505.0" y="822.5" width="31.0" height="30" fill="#F2F2F2"/>
<rect x="510.5" y="827.5" width="21" height="21" fill="#BEBADA" stroke="#000" stroke-width="1" shape-rendering="crispEdges"/>
<text x="542.9" y="844.2">extracellular region</text>
<rect x="692.0" y="822.5" width="30.6" height="30" fill="#F2F2F2"/>
<rect x="697.5" y="827.5" width="21" height="21" fill="#FB8072" stroke="#000" stroke-width="1" shape-rendering="crispEdges"/>
<text x="729.9" y="844.2">extracellular space</text>
<rect x="505.0" y="860.0" width="31.0" height="30" fill="#F2F2F2"/>
<rect x="510.5" y="864.5" width="21" height="21" fill="#80B1D3" stroke="#000" stroke-width="1" shape-rendering="crispEdges"/>
<text x="542.9" y="881.7">nucleus</text>
<rect x="692.0" y="860.0" width="30.6" height="30" fill="#F2F2F2"/>
<rect x="697.5" y="864.5" width="21" height="21" fill="#FDB462" stroke="#000" stroke-width="1" shape-rendering="crispEdges"/>
<text x="729.9" y="881.7">cytosol</text>
</g>
<defs><linearGradient id="cb" x1="0" x2="1" y1="0" y2="0"><stop offset="0.000" stop-color="#BBD1F8"/><stop offset="0.050" stop-color="#C5D9F9"/><stop offset="0.100" stop-color="#CEE1FB"/><stop offset="0.150" stop-color="#D7E8FC"/><stop offset="0.200" stop-color="#E0F0FD"/><stop offset="0.250" stop-color="#E8F8FE"/><stop offset="0.300" stop-color="#F1FEFD"/><stop offset="0.350" stop-color="#F6F2EF"/><stop offset="0.400" stop-color="#FBE6E0"/><stop offset="0.450" stop-color="#FFDAD2"/><stop offset="0.500" stop-color="#FFCDC4"/><stop offset="0.550" stop-color="#FFC1B6"/><stop offset="0.600" stop-color="#FFB5A8"/><stop offset="0.650" stop-color="#FFA89A"/><stop offset="0.700" stop-color="#FF9C8D"/><stop offset="0.750" stop-color="#FF8E7F"/><stop offset="0.800" stop-color="#FF8172"/><stop offset="0.850" stop-color="#FF7366"/><stop offset="0.900" stop-color="#FF6459"/><stop offset="0.950" stop-color="#FF534C"/><stop offset="1.000" stop-color="#FF4040"/></linearGradient></defs>
<rect x="618" y="942" width="114" height="23" fill="url(#cb)"/>
<rect x="732" y="946" width="1" height="14" fill="#FF4040"/>
<g font-family="Liberation Sans, Arial, sans-serif" fill="#000" text-anchor="middle">
<text x="674.8" y="933.7" font-size="14.67">logFC</text>
<text x="616.3" y="985" font-size="14.67">-1</text>
<text x="732" y="985" font-size="14.67">3</text>
</g>
</svg>
</body></html>
